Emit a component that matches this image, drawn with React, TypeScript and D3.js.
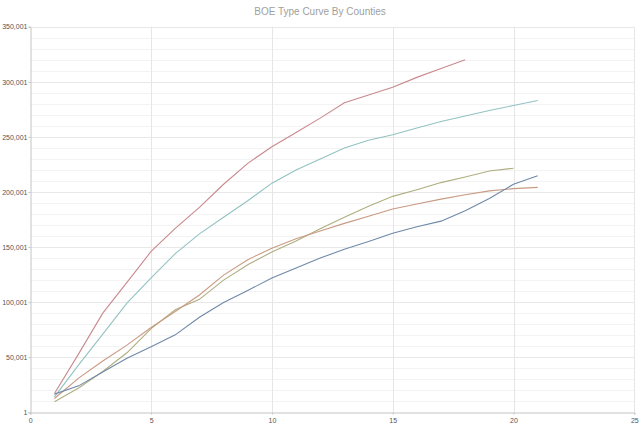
import React, { useEffect, useRef } from "react";
import * as d3 from "d3";

const seriesNames = ["County A", "County B", "County C", "County D", "County E"];
const seriesColors = ["#c9898d", "#93c2c2", "#aeae80", "#c99a82", "#7089a8"];

// months 1..n per series
const redValues = [
  17000, 53000, 90000, 118000, 146000, 167000, 186000, 207000, 226000, 241000,
  254000, 267000, 281000, 288000, 295000, 304000, 312000, 320000,
];
const tealValues = [
  14000, 43000, 71000, 99000, 122000, 144000, 162000, 177000, 192000, 208000,
  220000, 230000, 240000, 247000, 252000, 258000, 264000, 269000, 274000, 278500,
  283000,
];
const oliveValues = [
  9500, 22000, 37000, 54000, 76000, 93000, 102500, 120000, 134000, 145500,
  155500, 166500, 177000, 187000, 196000, 202000, 208500, 213500, 219000, 221500,
];
const brownValues = [
  12500, 31000, 46500, 61000, 77000, 91500, 106500, 124500, 138500, 149000,
  157500, 164500, 171500, 178000, 184500, 189000, 193500, 197500, 201000, 203000,
  204200,
];
const blueValues = [
  16500, 24000, 36500, 49000, 59500, 70300, 86300, 99600, 110600, 121800,
  131000, 140000, 148000, 155000, 162500, 168500, 173500, 183000, 194000, 207000,
  214800,
];

const allSeries = [redValues, tealValues, oliveValues, brownValues, blueValues];

const xTicks = [0, 5, 10, 15, 20, 25];
const yTicks = [1, 50001, 100001, 150001, 200001, 250001, 300001, 350001];

const W = 640;
const H = 427;

const App: React.FC = () => {
  const svgRef = useRef<SVGSVGElement>(null);

  useEffect(() => {
    const svg = d3.select(svgRef.current);
    svg.selectAll("*").remove();

    const left = 30.3;
    const right = 634.3;
    const top = 26.7;
    const bottom = 412.3;
    const font = "Liberation Sans, Arial, sans-serif";

    const x = d3.scaleLinear().domain([0, 25]).range([left, right]);
    const y = d3.scaleLinear().domain([1, 350001]).range([bottom, top]);

    svg
      .append("text")
      .attr("x", 320)
      .attr("y", 15)
      .attr("text-anchor", "middle")
      .style("font-family", font)
      .style("font-size", "10px")
      .style("fill", "#a0a0a0")
      .text("BOE Type Curve By Counties");

    // minor horizontal grid
    const minor = d3.range(10001, 350001, 10000).filter((v) => (v - 1) % 50000 !== 0);
    svg
      .append("g")
      .selectAll("line")
      .data(minor)
      .enter()
      .append("line")
      .attr("x1", left)
      .attr("x2", right)
      .attr("y1", (d) => Math.round(y(d)) + 0.5)
      .attr("y2", (d) => Math.round(y(d)) + 0.5)
      .style("stroke", "#f3f3f3");

    // major grid
    svg
      .append("g")
      .selectAll("line")
      .data(yTicks.slice(1))
      .enter()
      .append("line")
      .attr("x1", left)
      .attr("x2", right)
      .attr("y1", (d) => Math.round(y(d)) + 0.5)
      .attr("y2", (d) => Math.round(y(d)) + 0.5)
      .style("stroke", "#e8e8e8");

    svg
      .append("g")
      .selectAll("line")
      .data(xTicks.slice(1))
      .enter()
      .append("line")
      .attr("x1", (d) => Math.round(x(d)) + 0.5)
      .attr("x2", (d) => Math.round(x(d)) + 0.5)
      .attr("y1", top)
      .attr("y2", bottom)
      .style("stroke", "#e6e6e6");

    const yAxis = d3
      .axisLeft(y)
      .tickValues(yTicks)
      .tickSize(2)
      .tickFormat((d) => d3.format(",")(d as number));
    const gy = svg
      .append("g")
      .attr("transform", `translate(${Math.round(left) + 0.5},0)`)
      .call(yAxis);
    gy.select(".domain").style("stroke", "#c4c4c4");
    gy.selectAll(".tick line").style("stroke", "#c4c4c4");
    gy.selectAll("text")
      .style("font-family", font)
      .style("font-size", "7px")
      .style("fill", "#555")
      .attr("x", -3);

    const xAxis = d3.axisBottom(x).tickValues(xTicks).tickSize(2);
    const gx = svg
      .append("g")
      .attr("transform", `translate(0,${Math.round(bottom) + 0.5})`)
      .call(xAxis);
    gx.select(".domain").style("stroke", "#c4c4c4");
    gx.selectAll(".tick line").style("stroke", "#c4c4c4");
    gx.selectAll("text")
      .style("font-family", font)
      .style("font-size", "7px")
      .style("fill", "#555")
      .attr("y", 6);

    const line = d3
      .line<number>()
      .x((_, i) => x(i + 1))
      .y((d) => y(d));

    svg
      .append("g")
      .selectAll("path")
      .data(allSeries)
      .enter()
      .append("path")
      .attr("d", (d) => line(d))
      .attr("data-name", (_, i) => seriesNames[i])
      .style("fill", "none")
      .style("stroke", (_, i) => seriesColors[i])
      .style("stroke-width", 1.1);
  }, []);

  return (
    <svg
      ref={svgRef}
      width={W}
      height={H}
      style={{ position: "absolute", left: 0, top: 0, background: "#fff" }}
    />
  );
};

export default App;
